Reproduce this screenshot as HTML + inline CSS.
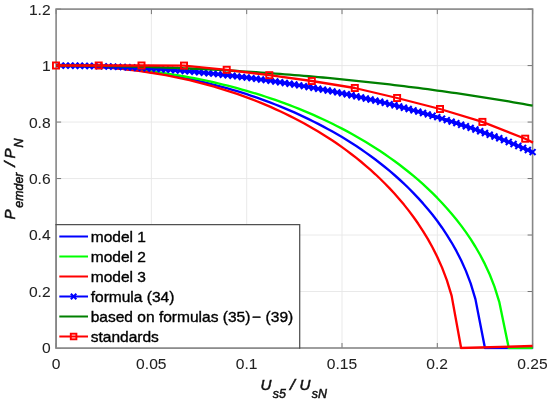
<!DOCTYPE html>
<html><head><meta charset="utf-8"><title>chart</title><style>html,body{margin:0;padding:0;background:#fff}svg{display:block}</style></head><body>
<svg width="550" height="401" viewBox="0 0 550 401">
<rect width="550" height="401" fill="#fff"/>
<path d="M151.40 9.1V348.0M246.70 9.1V348.0M342.00 9.1V348.0M437.30 9.1V348.0M56.1 291.52H532.6M56.1 235.03H532.6M56.1 178.55H532.6M56.1 122.07H532.6M56.1 65.58H532.6" stroke="#e6e6e6" stroke-width="0.9" fill="none"/>
<path d="M56.10 348.0v-5.0M56.10 9.1v5.0M151.40 348.0v-5.0M151.40 9.1v5.0M246.70 348.0v-5.0M246.70 9.1v5.0M342.00 348.0v-5.0M342.00 9.1v5.0M437.30 348.0v-5.0M437.30 9.1v5.0M532.60 348.0v-5.0M532.60 9.1v5.0M56.1 348.00h5.0M532.6 348.00h-5.0M56.1 291.52h5.0M532.6 291.52h-5.0M56.1 235.03h5.0M532.6 235.03h-5.0M56.1 178.55h5.0M532.6 178.55h-5.0M56.1 122.07h5.0M532.6 122.07h-5.0M56.1 65.58h5.0M532.6 65.58h-5.0M56.1 9.10h5.0M532.6 9.10h-5.0" stroke="#555" stroke-width="0.8" fill="none"/>
<rect x="56.1" y="9.1" width="476.5" height="338.9" fill="none" stroke="#868686" stroke-width="1.6"/>
<defs><clipPath id="c"><rect x="51.1" y="9.1" width="486.5" height="340.5"/></clipPath></defs>
<g clip-path="url(#c)" fill="none" stroke-linejoin="round">
<path d="M56.10 65.58L60.87 65.60L65.63 65.64L70.39 65.72L75.16 65.82L79.93 65.97L84.69 66.14L89.46 66.35L94.22 66.59L98.98 66.86L103.75 67.17L108.52 67.51L113.28 67.89L118.05 68.31L122.81 68.76L127.57 69.24L132.34 69.76L137.11 70.32L141.87 70.92L146.63 71.55L151.40 72.22L156.16 72.93L160.93 73.68L165.69 74.46L170.46 75.29L175.22 76.15L179.99 77.05L184.75 78.00L189.52 78.98L194.28 80.01L199.05 81.08L203.81 82.19L208.58 83.35L213.34 84.55L218.11 85.79L222.88 87.08L227.64 88.41L232.41 89.80L237.17 91.23L241.94 92.70L246.70 94.23L251.47 95.81L256.23 97.44L261.00 99.12L265.76 100.85L270.53 102.64L275.29 104.49L280.06 106.39L284.82 108.35L289.58 110.37L294.35 112.45L299.12 114.60L303.88 116.81L308.65 119.09L313.41 121.44L318.18 123.85L322.94 126.35L327.71 128.92L332.47 131.56L337.24 134.29L342.00 137.11L346.77 140.02L351.53 143.01L356.30 146.11L361.06 149.30L365.83 152.60L370.59 156.02L375.36 159.55L380.12 163.21L384.89 167.00L389.65 170.93L394.42 175.01L399.18 179.25L403.94 183.66L408.71 188.27L413.48 193.08L418.24 198.12L423.01 203.40L427.77 208.96L432.54 214.83L437.30 221.06L442.07 227.70L446.83 234.82L451.60 242.52L456.36 250.94L461.12 260.28L465.89 270.88L470.66 283.35L475.42 299.10L484.95 348.00L532.60 348.00" stroke="#0000ff" stroke-width="2.35"/>
<path d="M56.10 65.58L60.87 65.59L65.63 65.63L70.39 65.69L75.16 65.78L79.93 65.90L84.69 66.05L89.46 66.23L94.22 66.43L98.98 66.67L103.75 66.94L108.52 67.24L113.28 67.56L118.05 67.93L122.81 68.32L127.57 68.74L132.34 69.20L137.11 69.69L141.87 70.21L146.63 70.77L151.40 71.36L156.16 71.98L160.93 72.64L165.69 73.34L170.46 74.06L175.22 74.83L179.99 75.63L184.75 76.47L189.52 77.34L194.28 78.25L199.05 79.20L203.81 80.18L208.58 81.21L213.34 82.27L218.11 83.38L222.88 84.52L227.64 85.71L232.41 86.94L237.17 88.21L241.94 89.52L246.70 90.88L251.47 92.28L256.23 93.72L261.00 95.21L265.76 96.75L270.53 98.34L275.29 99.97L280.06 101.66L284.82 103.39L289.58 105.18L294.35 107.02L299.12 108.91L303.88 110.86L308.65 112.87L313.41 114.93L318.18 117.06L322.94 119.24L327.71 121.49L332.47 123.81L337.24 126.19L342.00 128.64L346.77 131.16L351.53 133.76L356.30 136.44L361.06 139.19L365.83 142.03L370.59 144.95L375.36 147.97L380.12 151.08L384.89 154.28L389.65 157.60L394.42 161.02L399.18 164.55L403.94 168.21L408.71 171.99L413.48 175.91L418.24 179.98L423.01 184.21L427.77 188.60L432.54 193.18L437.30 197.95L442.07 202.95L446.83 208.18L451.60 213.68L456.36 219.49L461.12 225.64L465.89 232.18L470.66 239.19L475.42 246.75L480.19 255.00L484.95 264.14L489.72 274.48L494.48 286.61L499.25 301.85L508.77 348.00L532.60 348.00" stroke="#00ff00" stroke-width="2.35"/>
<path d="M56.10 65.58L60.87 65.60L65.63 65.64L70.39 65.72L75.16 65.83L79.93 65.97L84.69 66.15L89.46 66.37L94.22 66.62L98.98 66.91L103.75 67.24L108.52 67.61L113.28 68.01L118.05 68.46L122.81 68.94L127.57 69.47L132.34 70.04L137.11 70.64L141.87 71.29L146.63 71.98L151.40 72.72L156.16 73.49L160.93 74.31L165.69 75.18L170.46 76.09L175.22 77.05L179.99 78.05L184.75 79.10L189.52 80.19L194.28 81.34L199.05 82.53L203.81 83.77L208.58 85.07L213.34 86.41L218.11 87.81L222.88 89.26L227.64 90.76L232.41 92.32L237.17 93.94L241.94 95.61L246.70 97.35L251.47 99.14L256.23 100.99L261.00 102.91L265.76 104.89L270.53 106.94L275.29 109.06L280.06 111.24L284.82 113.50L289.58 115.83L294.35 118.24L299.12 120.73L303.88 123.30L308.65 125.95L313.41 128.69L318.18 131.52L322.94 134.44L327.71 137.46L332.47 140.59L337.24 143.82L342.00 147.16L346.77 150.62L351.53 154.21L356.30 157.92L361.06 161.78L365.83 165.78L370.59 169.94L375.36 174.26L380.12 178.77L384.89 183.47L389.65 188.39L394.42 193.53L399.18 198.94L403.94 204.62L408.71 210.63L413.48 217.00L418.24 223.78L423.01 231.05L427.77 238.90L432.54 247.46L437.30 256.93L442.07 267.63L446.83 280.11L451.60 295.59L461.12 348.00L532.60 346.02" stroke="#ff0000" stroke-width="2.35"/>
<path d="M56.10 65.58L60.87 65.59L65.63 65.61L70.39 65.65L75.16 65.70L79.93 65.77L84.69 65.85L89.46 65.94L94.22 66.05L98.98 66.18L103.75 66.32L108.52 66.47L113.28 66.64L118.05 66.82L122.81 67.02L127.57 67.24L132.34 67.46L137.11 67.71L141.87 67.97L146.63 68.24L151.40 68.53L156.16 68.83L160.93 69.15L165.69 69.49L170.46 69.83L175.22 70.20L179.99 70.58L184.75 70.97L189.52 71.39L194.28 71.81L199.05 72.25L203.81 72.71L208.58 73.19L213.34 73.68L218.11 74.18L222.88 74.70L227.64 75.24L232.41 75.80L237.17 76.37L241.94 76.95L246.70 77.56L251.47 78.18L256.23 78.81L261.00 79.47L265.76 80.14L270.53 80.83L275.29 81.53L280.06 82.26L284.82 83.00L289.58 83.76L294.35 84.53L299.12 85.33L303.88 86.14L308.65 86.97L313.41 87.82L318.18 88.69L322.94 89.57L327.71 90.48L332.47 91.41L337.24 92.35L342.00 93.32L346.77 94.30L351.53 95.31L356.30 96.33L361.06 97.38L365.83 98.44L370.59 99.53L375.36 100.64L380.12 101.77L384.89 102.93L389.65 104.10L394.42 105.30L399.18 106.52L403.94 107.77L408.71 109.04L413.48 110.33L418.24 111.65L423.01 112.99L427.77 114.36L432.54 115.76L437.30 117.18L442.07 118.62L446.83 120.10L451.60 121.60L456.36 123.13L461.12 124.69L465.89 126.28L470.66 127.90L475.42 129.55L480.19 131.24L484.95 132.95L489.72 134.70L494.48 136.48L499.25 138.30L504.01 140.15L508.78 142.04L513.54 143.97L518.30 145.94L523.07 147.94L527.84 149.99L532.60 152.08" stroke="#0000ff" stroke-width="2.3"/>
<path d="M57.91 62.64L63.82 68.54M57.91 68.54L63.82 62.64M62.68 62.66L68.58 68.56M62.68 68.56L68.58 62.66M67.44 62.70L73.34 68.60M67.44 68.60L73.34 62.70M72.21 62.75L78.11 68.65M72.21 68.65L78.11 62.75M76.98 62.82L82.88 68.72M76.98 68.72L82.88 62.82M81.74 62.90L87.64 68.80M81.74 68.80L87.64 62.90M86.51 62.99L92.41 68.89M86.51 68.89L92.41 62.99M91.27 63.10L97.17 69.00M91.27 69.00L97.17 63.10M96.03 63.23L101.94 69.13M96.03 69.13L101.94 63.23M100.80 63.37L106.70 69.27M100.80 69.27L106.70 63.37M105.56 63.52L111.47 69.42M105.56 69.42L111.47 63.52M110.33 63.69L116.23 69.59M110.33 69.59L116.23 63.69M115.09 63.87L121.00 69.77M115.09 69.77L121.00 63.87M119.86 64.07L125.76 69.97M119.86 69.97L125.76 64.07M124.62 64.29L130.52 70.19M124.62 70.19L130.52 64.29M129.39 64.51L135.29 70.41M129.39 70.41L135.29 64.51M134.16 64.76L140.06 70.66M134.16 70.66L140.06 64.76M138.92 65.02L144.82 70.92M138.92 70.92L144.82 65.02M143.69 65.29L149.58 71.19M143.69 71.19L149.58 65.29M148.45 65.58L154.35 71.48M148.45 71.48L154.35 65.58M153.22 65.88L159.11 71.78M153.22 71.78L159.11 65.88M157.98 66.20L163.88 72.10M157.98 72.10L163.88 66.20M162.75 66.54L168.64 72.44M162.75 72.44L168.64 66.54M167.51 66.88L173.41 72.78M167.51 72.78L173.41 66.88M172.28 67.25L178.17 73.15M172.28 73.15L178.17 67.25M177.04 67.63L182.94 73.53M177.04 73.53L182.94 67.63M181.81 68.02L187.70 73.92M181.81 73.92L187.70 68.02M186.57 68.44L192.47 74.34M186.57 74.34L192.47 68.44M191.34 68.86L197.23 74.76M191.34 74.76L197.23 68.86M196.10 69.30L202.00 75.20M196.10 75.20L202.00 69.30M200.87 69.76L206.76 75.66M200.87 75.66L206.76 69.76M205.63 70.24L211.53 76.14M205.63 76.14L211.53 70.24M210.40 70.73L216.29 76.63M210.40 76.63L216.29 70.73M215.16 71.23L221.06 77.13M215.16 77.13L221.06 71.23M219.93 71.75L225.82 77.65M219.93 77.65L225.82 71.75M224.69 72.29L230.59 78.19M224.69 78.19L230.59 72.29M229.46 72.85L235.35 78.75M229.46 78.75L235.35 72.85M234.22 73.42L240.12 79.32M234.22 79.32L240.12 73.42M238.99 74.00L244.88 79.90M238.99 79.90L244.88 74.00M243.75 74.61L249.65 80.51M243.75 80.51L249.65 74.61M248.52 75.23L254.41 81.13M248.52 81.13L254.41 75.23M253.28 75.86L259.18 81.76M253.28 81.76L259.18 75.86M258.05 76.52L263.94 82.42M258.05 82.42L263.94 76.52M262.81 77.19L268.71 83.09M262.81 83.09L268.71 77.19M267.58 77.88L273.48 83.78M267.58 83.78L273.48 77.88M272.34 78.58L278.24 84.48M272.34 84.48L278.24 78.58M277.11 79.31L283.00 85.21M277.11 85.21L283.00 79.31M281.87 80.05L287.77 85.95M281.87 85.95L287.77 80.05M286.63 80.81L292.53 86.71M286.63 86.71L292.53 80.81M291.40 81.58L297.30 87.48M291.40 87.48L297.30 81.58M296.17 82.38L302.06 88.28M296.17 88.28L302.06 82.38M300.93 83.19L306.83 89.09M300.93 89.09L306.83 83.19M305.70 84.02L311.60 89.92M305.70 89.92L311.60 84.02M310.46 84.87L316.36 90.77M310.46 90.77L316.36 84.87M315.23 85.74L321.13 91.64M315.23 91.64L321.13 85.74M319.99 86.62L325.89 92.52M319.99 92.52L325.89 86.62M324.76 87.53L330.66 93.43M324.76 93.43L330.66 87.53M329.52 88.46L335.42 94.36M329.52 94.36L335.42 88.46M334.29 89.40L340.19 95.30M334.29 95.30L340.19 89.40M339.05 90.37L344.95 96.27M339.05 96.27L344.95 90.37M343.82 91.35L349.72 97.25M343.82 97.25L349.72 91.35M348.58 92.36L354.48 98.26M348.58 98.26L354.48 92.36M353.35 93.38L359.25 99.28M353.35 99.28L359.25 93.38M358.11 94.43L364.01 100.33M358.11 100.33L364.01 94.43M362.88 95.49L368.78 101.39M362.88 101.39L368.78 95.49M367.64 96.58L373.54 102.48M367.64 102.48L373.54 96.58M372.41 97.69L378.31 103.59M372.41 103.59L378.31 97.69M377.17 98.82L383.07 104.72M377.17 104.72L383.07 98.82M381.94 99.98L387.84 105.88M381.94 105.88L387.84 99.98M386.70 101.15L392.60 107.05M386.70 107.05L392.60 101.15M391.47 102.35L397.37 108.25M391.47 108.25L397.37 102.35M396.23 103.57L402.13 109.47M396.23 109.47L402.13 103.57M401.00 104.82L406.89 110.72M401.00 110.72L406.89 104.82M405.76 106.09L411.66 111.99M405.76 111.99L411.66 106.09M410.53 107.38L416.43 113.28M410.53 113.28L416.43 107.38M415.29 108.70L421.19 114.60M415.29 114.60L421.19 108.70M420.06 110.04L425.96 115.94M420.06 115.94L425.96 110.04M424.82 111.41L430.72 117.31M424.82 117.31L430.72 111.41M429.59 112.81L435.49 118.71M429.59 118.71L435.49 112.81M434.35 114.23L440.25 120.13M434.35 120.13L440.25 114.23M439.12 115.67L445.02 121.57M439.12 121.57L445.02 115.67M443.88 117.15L449.78 123.05M443.88 123.05L449.78 117.15M448.65 118.65L454.55 124.55M448.65 124.55L454.55 118.65M453.41 120.18L459.31 126.08M453.41 126.08L459.31 120.18M458.18 121.74L464.07 127.64M458.18 127.64L464.07 121.74M462.94 123.33L468.84 129.23M462.94 129.23L468.84 123.33M467.71 124.95L473.61 130.85M467.71 130.85L473.61 124.95M472.47 126.60L478.37 132.50M472.47 132.50L478.37 126.60M477.24 128.29L483.13 134.19M477.24 134.19L483.13 128.29M482.00 130.00L487.90 135.90M482.00 135.90L487.90 130.00M486.77 131.75L492.67 137.65M486.77 137.65L492.67 131.75M491.53 133.53L497.43 139.43M491.53 139.43L497.43 133.53M496.30 135.35L502.20 141.25M496.30 141.25L502.20 135.35M501.06 137.20L506.96 143.10M501.06 143.10L506.96 137.20M505.83 139.09L511.73 144.99M505.83 144.99L511.73 139.09M510.59 141.02L516.49 146.92M510.59 146.92L516.49 141.02M515.35 142.99L521.25 148.89M515.35 148.89L521.25 142.99M520.12 144.99L526.02 150.89M520.12 150.89L526.02 144.99M524.88 147.04L530.79 152.94M524.88 152.94L530.79 147.04M529.65 149.13L535.55 155.03M529.65 155.03L535.55 149.13" stroke="#0000ff" stroke-width="2.1"/>
<path d="M56.10 65.58L60.87 65.59L65.63 65.60L70.39 65.62L75.16 65.64L79.93 65.68L84.69 65.72L89.46 65.77L94.22 65.82L98.98 65.89L103.75 65.96L108.52 66.03L113.28 66.12L118.05 66.21L122.81 66.31L127.57 66.42L132.34 66.54L137.11 66.66L141.87 66.79L146.63 66.93L151.40 67.08L156.16 67.23L160.93 67.39L165.69 67.56L170.46 67.74L175.22 67.92L179.99 68.11L184.75 68.31L189.52 68.52L194.28 68.73L199.05 68.96L203.81 69.19L208.58 69.42L213.34 69.67L218.11 69.92L222.88 70.18L227.64 70.45L232.41 70.73L237.17 71.01L241.94 71.31L246.70 71.61L251.47 71.91L256.23 72.23L261.00 72.56L265.76 72.89L270.53 73.23L275.29 73.58L280.06 73.93L284.82 74.30L289.58 74.67L294.35 75.05L299.12 75.44L303.88 75.84L308.65 76.25L313.41 76.66L318.18 77.08L322.94 77.52L327.71 77.95L332.47 78.40L337.24 78.86L342.00 79.33L346.77 79.80L351.53 80.28L356.30 80.77L361.06 81.27L365.83 81.78L370.59 82.30L375.36 82.83L380.12 83.36L384.89 83.91L389.65 84.46L394.42 85.03L399.18 85.60L403.94 86.18L408.71 86.77L413.48 87.37L418.24 87.98L423.01 88.60L427.77 89.23L432.54 89.87L437.30 90.52L442.07 91.18L446.83 91.85L451.60 92.53L456.36 93.21L461.12 93.91L465.89 94.62L470.66 95.34L475.42 96.07L480.19 96.81L484.95 97.56L489.72 98.32L494.48 99.09L499.25 99.88L504.01 100.67L508.78 101.48L513.54 102.29L518.30 103.12L523.07 103.96L527.84 104.81L532.60 105.67" stroke="#008000" stroke-width="2.3"/>
<path d="M56.00 65.50L98.70 65.50L141.50 65.50L184.00 65.60L226.70 69.80L269.30 75.20L311.80 81.00L354.80 88.00L397.10 98.00L440.00 109.00L482.40 121.90L525.20 138.70L533.00 142.60" stroke="#ff0000" stroke-width="2.3"/>
</g>
<g fill="none" stroke="#ff0000" stroke-width="1.9">
<rect x="52.95" y="62.45" width="6.1" height="6.1"/>
<rect x="95.65" y="62.45" width="6.1" height="6.1"/>
<rect x="138.45" y="62.45" width="6.1" height="6.1"/>
<rect x="180.95" y="62.55" width="6.1" height="6.1"/>
<rect x="223.65" y="66.75" width="6.1" height="6.1"/>
<rect x="266.25" y="72.15" width="6.1" height="6.1"/>
<rect x="308.75" y="77.95" width="6.1" height="6.1"/>
<rect x="351.75" y="84.95" width="6.1" height="6.1"/>
<rect x="394.05" y="94.95" width="6.1" height="6.1"/>
<rect x="436.95" y="105.95" width="6.1" height="6.1"/>
<rect x="479.35" y="118.85" width="6.1" height="6.1"/>
<rect x="522.15" y="135.65" width="6.1" height="6.1"/>
</g>
<rect x="56.2" y="224.7" width="243.5" height="123.30000000000001" fill="#fff"/>
<path d="M56.2 224.7V348.0H299.7" fill="none" stroke="#868686" stroke-width="1.6"/>
<path d="M55.400000000000006 224.7H299.7V348.8" fill="none" stroke="#505050" stroke-width="1.25"/>
<g fill="none" stroke-width="2">
<path d="M59.3 236.5H88" stroke="#0000ff"/>
<path d="M59.3 256.5H88" stroke="#00ff00"/>
<path d="M59.3 276.5H88" stroke="#ff0000"/>
<path d="M59.3 296.5H88" stroke="#0000ff"/>
<path d="M59.3 316.5H88" stroke="#008000"/>
<path d="M59.3 336.5H88" stroke="#ff0000"/>
<path d="M70.85 293.75L76.35 299.25M70.85 299.25L76.35 293.75" stroke="#0000ff" stroke-width="2"/>
<rect x="70.8" y="333.7" width="5.6" height="5.6" stroke="#ff0000" stroke-width="1.9"/>
</g>
<g font-family="Liberation Sans, Arial, Helvetica, sans-serif" fill="#000" stroke="#000" stroke-width="0.35">
<text transform="translate(90.70 241.80) scale(1.05 1)" font-size="14.8" text-anchor="start">model 1</text>
<text transform="translate(90.70 261.80) scale(1.05 1)" font-size="14.8" text-anchor="start">model 2</text>
<text transform="translate(90.70 281.80) scale(1.05 1)" font-size="14.8" text-anchor="start">model 3</text>
<text transform="translate(90.70 301.80) scale(1.05 1)" font-size="14.8" text-anchor="start">formula (34)</text>
<text transform="translate(90.70 321.80) scale(1.05 1)" font-size="14.8" text-anchor="start">based on formulas (35)<tspan dx="1.6">−</tspan><tspan dx="0.2"> (39)</tspan></text>
<text transform="translate(90.70 341.80) scale(1.05 1)" font-size="14.8" text-anchor="start">standards</text>
</g>
<g font-family="Liberation Sans, Arial, Helvetica, sans-serif" fill="#222" stroke="#222" stroke-width="0.06">
<text transform="translate(56.00 368.65) scale(1.065 1)" font-size="14.67" text-anchor="middle">0</text>
<text transform="translate(151.30 368.65) scale(1.065 1)" font-size="14.67" text-anchor="middle">0.05</text>
<text transform="translate(246.60 368.65) scale(1.065 1)" font-size="14.67" text-anchor="middle">0.1</text>
<text transform="translate(341.90 368.65) scale(1.065 1)" font-size="14.67" text-anchor="middle">0.15</text>
<text transform="translate(437.20 368.65) scale(1.065 1)" font-size="14.67" text-anchor="middle">0.2</text>
<text transform="translate(532.50 368.65) scale(1.065 1)" font-size="14.67" text-anchor="middle">0.25</text>
<text transform="translate(50.60 353.45) scale(1.065 1)" font-size="14.67" text-anchor="end">0</text>
<text transform="translate(50.60 296.97) scale(1.065 1)" font-size="14.67" text-anchor="end">0.2</text>
<text transform="translate(50.60 240.48) scale(1.065 1)" font-size="14.67" text-anchor="end">0.4</text>
<text transform="translate(50.60 184.00) scale(1.065 1)" font-size="14.67" text-anchor="end">0.6</text>
<text transform="translate(50.60 127.52) scale(1.065 1)" font-size="14.67" text-anchor="end">0.8</text>
<text transform="translate(50.60 71.03) scale(1.065 1)" font-size="14.67" text-anchor="end">1</text>
<text transform="translate(50.60 14.55) scale(1.065 1)" font-size="14.67" text-anchor="end">1.2</text>
</g>
<g font-family="Liberation Sans, Arial, Helvetica, sans-serif" font-style="italic" fill="#111" stroke="#111" stroke-width="0.5">
<text transform="translate(260.50 390.40) scale(1.0 1)" font-size="15.1" text-anchor="start">U</text>
<text transform="translate(272.80 397.70) scale(1.0 1)" font-size="12.4" text-anchor="start">s5</text>
<text transform="translate(290.10 390.40) scale(1.15 1)" font-size="15.1" text-anchor="start">/</text>
<text transform="translate(299.50 390.40) scale(1.0 1)" font-size="15.1" text-anchor="start">U</text>
<text transform="translate(311.70 397.70) scale(1.0 1)" font-size="12.4" text-anchor="start">sN</text>
<g transform="translate(14.8 220.6) rotate(-90)">
<text transform="translate(1.20 0.00) scale(1.0 1)" font-size="15.1" text-anchor="start">P</text>
<text transform="translate(12.90 8.60) scale(1.0 1)" font-size="12.4" text-anchor="start">emder</text>
<text transform="translate(54.00 0.00) scale(1.15 1)" font-size="15.1" text-anchor="start">/</text>
<text transform="translate(62.20 0.00) scale(1.0 1)" font-size="15.1" text-anchor="start">P</text>
<text transform="translate(73.00 8.60) scale(1.0 1)" font-size="12.4" text-anchor="start">N</text>
</g></g>
</svg>
</body></html>
